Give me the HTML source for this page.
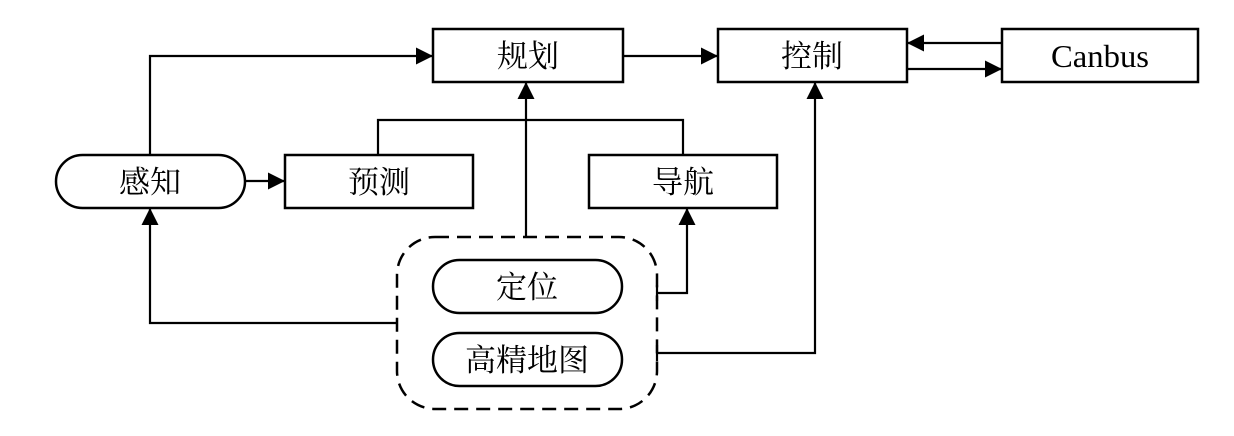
<!DOCTYPE html>
<html><head><meta charset="utf-8"><style>
html,body{margin:0;padding:0;background:#fff;}
svg{display:block;}
text{font-family:"Liberation Serif","Noto Serif CJK SC",serif;font-size:31px;fill:#000;}
</style></head><body>
<svg width="1234" height="436" viewBox="0 0 1234 436" xmlns="http://www.w3.org/2000/svg">
<defs>
<marker id="a" viewBox="0 0 10 10" refX="10" refY="5" markerWidth="20" markerHeight="17" markerUnits="userSpaceOnUse" orient="auto">
<path d="M0,0 L10,5 L0,10 z" fill="#000"/></marker>
</defs>
<g fill="none" stroke="#000" stroke-width="2.5">
<rect x="433" y="29" width="190" height="53"/>
<rect x="718" y="29" width="189" height="53"/>
<rect x="1002" y="29" width="196" height="53"/>
<rect x="56" y="155" width="189" height="53" rx="26.5"/>
<rect x="285" y="155" width="188" height="53"/>
<rect x="589" y="155" width="188" height="53"/>
<rect x="433" y="260" width="189" height="53" rx="26.5"/>
<rect x="433" y="333" width="189" height="53" rx="26.5"/>
<rect x="397" y="237" width="260" height="172" rx="38" stroke-dasharray="14,8"/>
</g>
<g fill="none" stroke="#000" stroke-width="2.2">
<path d="M150,155 V56 H433" marker-end="url(#a)"/>
<path d="M623,56 H718" marker-end="url(#a)"/>
<path d="M245,181 H285" marker-end="url(#a)"/>
<path d="M378,155 V120 H683 V155"/>
<path d="M526,237 V82" marker-end="url(#a)"/>
<path d="M397,323 H150 V208" marker-end="url(#a)"/>
<path d="M657,293 H687 V208" marker-end="url(#a)"/>
<path d="M657,353 H815 V82" marker-end="url(#a)"/>
<path d="M1002,43 H907" marker-end="url(#a)"/>
<path d="M907,69 H1002" marker-end="url(#a)"/>
<path d="M657,285 V301 M657,345 V361"/>
</g>
<text x="528" y="67" text-anchor="middle">规划</text>
<text x="812" y="67" text-anchor="middle">控制</text>
<text x="1100" y="67" text-anchor="middle" style="font-size:32px" textLength="98" lengthAdjust="spacingAndGlyphs">Canbus</text>
<text x="150" y="193" text-anchor="middle">感知</text>
<text x="379" y="193" text-anchor="middle">预测</text>
<text x="683" y="193" text-anchor="middle">导航</text>
<text x="527" y="298" text-anchor="middle">定位</text>
<text x="527" y="371" text-anchor="middle">高精地图</text>
</svg>
</body></html>
